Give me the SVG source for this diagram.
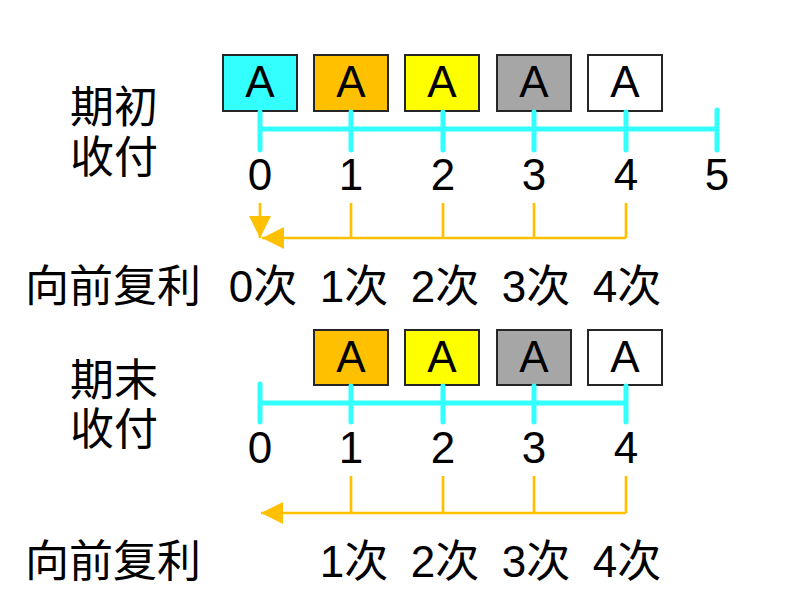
<svg xmlns="http://www.w3.org/2000/svg" width="800" height="609" viewBox="0 0 800 609">
<defs>
<style>
.box{stroke:#262626;stroke-width:2}
.t{font-family:"Liberation Sans","Noto Sans CJK SC",sans-serif;font-size:44px;fill:#000}
.c{text-anchor:middle}
.ax{stroke:#33FFFF;stroke-width:5;stroke-linecap:round;fill:none}
.or{stroke:#FFC000;stroke-width:2.7;fill:none}
</style>
<marker id="ah" viewBox="0 0 22 22" refX="22" refY="11" markerWidth="22" markerHeight="22" markerUnits="userSpaceOnUse" orient="auto">
<path d="M0,0 L22,11 L0,22 Z" fill="#FFC000"/>
</marker>
</defs>
<rect width="800" height="609" fill="#fff"/>

<g id="label-top">
<text class="t c" x="114" y="123">期初</text>
<text class="t c" x="114" y="173">收付</text>
</g>
<g id="label-bottom">
<text class="t c" x="114" y="396">期末</text>
<text class="t c" x="114" y="445">收付</text>
</g>

<g id="boxes-top">
<g id="top-a0"><rect class="box" x="223" y="55" width="74" height="56" fill="#33FFFF"/><text class="t c" x="260" y="97">A</text></g>
<g id="top-a1"><rect class="box" x="314" y="55" width="74" height="56" fill="#FFC000"/><text class="t c" x="351" y="97">A</text></g>
<g id="top-a2"><rect class="box" x="405" y="55" width="74" height="56" fill="#FFFF00"/><text class="t c" x="442" y="97">A</text></g>
<g id="top-a3"><rect class="box" x="497" y="55" width="74" height="56" fill="#A6A6A6"/><text class="t c" x="534" y="97">A</text></g>
<g id="top-a4"><rect class="box" x="588" y="55" width="74" height="56" fill="#FFFFFF"/><text class="t c" x="625" y="97">A</text></g>
</g>

<g id="axis-top">
<path class="ax" d="M260,129 H717 M260,112 V150 M351,112 V150 M443,112 V150 M534,112 V150 M626,112 V150 M717,110 V150"/>
</g>
<g id="nums-top">
<text class="t c" x="260" y="190">0</text>
<text class="t c" x="351" y="190">1</text>
<text class="t c" x="443" y="190">2</text>
<text class="t c" x="534" y="190">3</text>
<text class="t c" x="626" y="190">4</text>
<text class="t c" x="717" y="190">5</text>
</g>

<g id="connectors">
<path class="or" d="M351,203 V238 M443,203 V238 M534,203 V238 M626,203 V238"/>
<path class="or" d="M626,238 H262" marker-end="url(#ah)"/>
<path class="or" d="M260,203 V238" marker-end="url(#ah)"/>
<path class="or" d="M351,476 V513 M443,476 V513 M534,476 V513 M626,476 V513"/>
<path class="or" d="M626,513 H261" marker-end="url(#ah)"/>
</g>

<g id="row-top">
<text class="t" x="25" y="302">向前复利</text>
<text class="t c" x="263" y="302">0次</text>
<text class="t c" x="354" y="302">1次</text>
<text class="t c" x="445" y="302">2次</text>
<text class="t c" x="536" y="302">3次</text>
<text class="t c" x="627" y="302">4次</text>
</g>

<g id="boxes-bottom">
<g id="bot-a1"><rect class="box" x="314" y="330" width="74" height="55" fill="#FFC000"/><text class="t c" x="351" y="372">A</text></g>
<g id="bot-a2"><rect class="box" x="405" y="330" width="74" height="55" fill="#FFFF00"/><text class="t c" x="442" y="372">A</text></g>
<g id="bot-a3"><rect class="box" x="497" y="330" width="74" height="55" fill="#A6A6A6"/><text class="t c" x="534" y="372">A</text></g>
<g id="bot-a4"><rect class="box" x="588" y="330" width="74" height="55" fill="#FFFFFF"/><text class="t c" x="625" y="372">A</text></g>
</g>

<g id="axis-bottom">
<path class="ax" d="M260,403 H626 M260,384 V422 M351,386 V422 M443,386 V422 M534,386 V422 M626,386 V422"/>
</g>
<g id="nums-bottom">
<text class="t c" x="260" y="463">0</text>
<text class="t c" x="351" y="463">1</text>
<text class="t c" x="443" y="463">2</text>
<text class="t c" x="534" y="463">3</text>
<text class="t c" x="626" y="463">4</text>
</g>

<g id="row-bottom">
<text class="t" x="25" y="577">向前复利</text>
<text class="t c" x="354" y="577">1次</text>
<text class="t c" x="445" y="577">2次</text>
<text class="t c" x="536" y="577">3次</text>
<text class="t c" x="627" y="577">4次</text>
</g>
</svg>
